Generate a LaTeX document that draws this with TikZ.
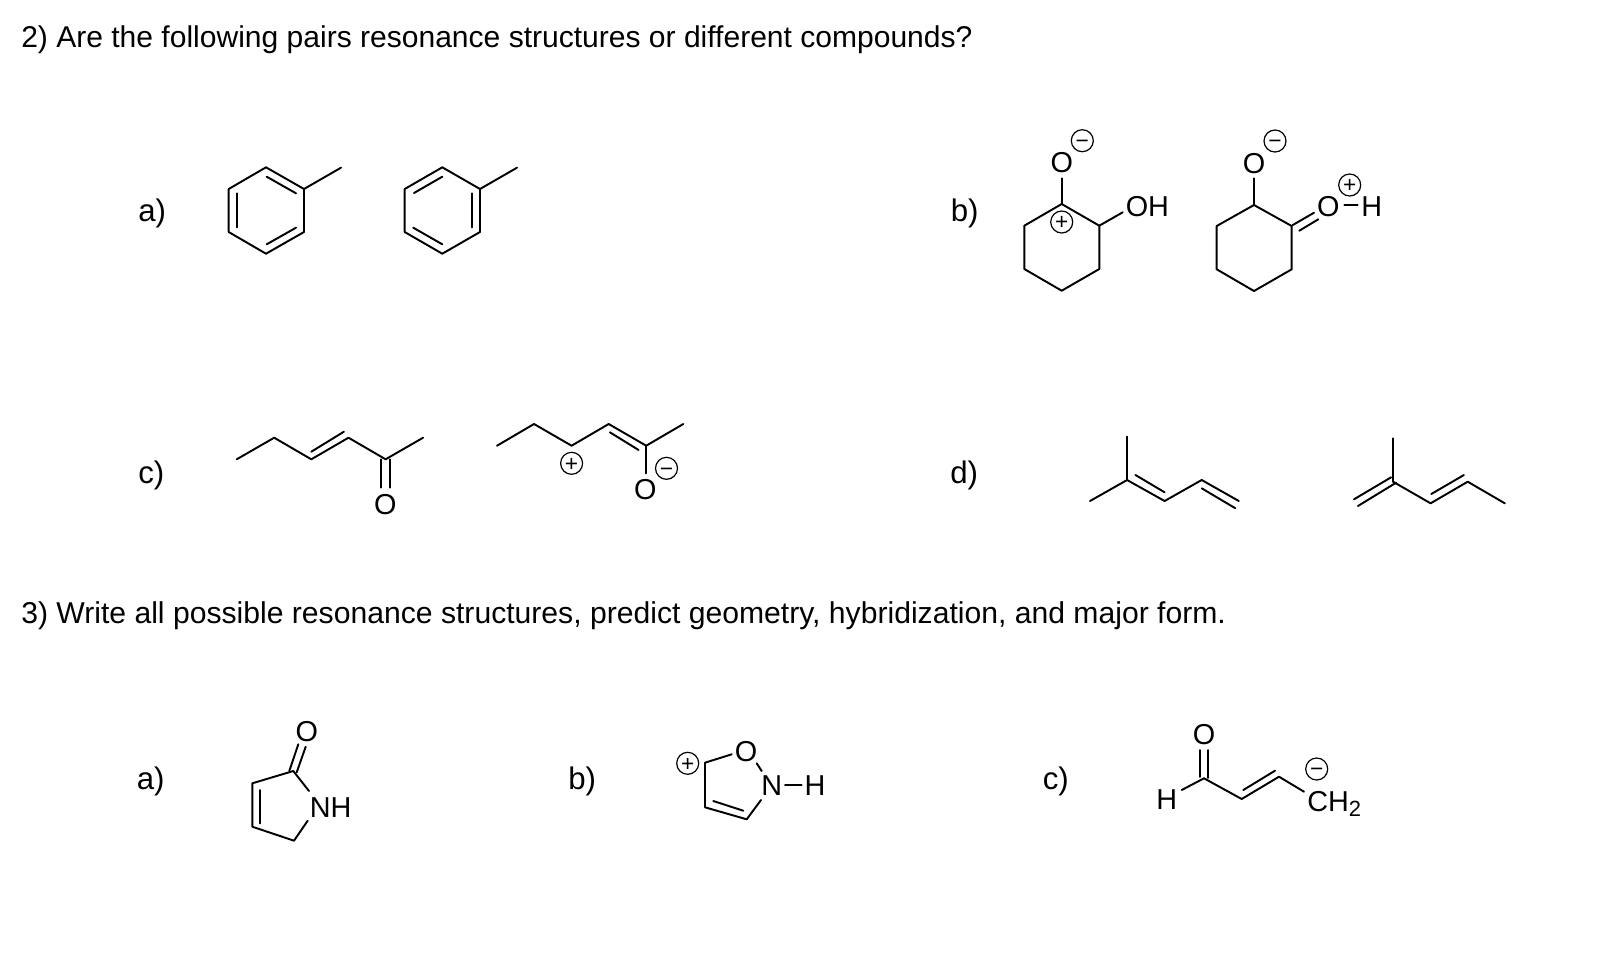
\documentclass[tikz,border=0pt]{standalone}
\usepackage{fontspec}
\setmainfont{Liberation Sans}
\newcommand{\txtbig}{\fontsize{22.53pt}{26pt}\selectfont}
\newcommand{\txtlabel}{\fontsize{23.4pt}{26pt}\selectfont}
\newcommand{\txtatom}{\fontsize{21.6pt}{24pt}\selectfont}
\tikzset{
  bond/.style={line width=1.45pt,line cap=round,line join=round,black},
  heading/.style={anchor=base west,inner sep=0pt,font=\txtbig},
  partlabel/.style={anchor=base west,inner sep=0pt,font=\txtlabel},
  atom/.style={anchor=center,inner sep=0pt,font=\txtatom},
  atombase/.style={anchor=base west,inner sep=0pt,font=\txtatom},
  charge/.style={circle,draw,line width=0.9pt,minimum size=16.5pt,inner sep=0pt,text height=11.8pt,text depth=0pt,font=\fontsize{17pt}{18pt}\selectfont}
}
\begin{document}
\begin{tikzpicture}[x=0.75pt,y=-0.75pt]
\useasboundingbox (0,0) rectangle (1622,976);
\fill[white] (0,0) rectangle (1622,976);
% headings
\node[heading] (h2) at (21,47.7) {2) Are the following pairs resonance structures or different compounds?};
\node[heading,font=\fontsize{22.6pt}{26pt}\selectfont] (h3) at (21,623) {3) Write all possible resonance structures, predict geometry, hybridization, and major form.};
% part labels
\node[partlabel] (l2a) at (138,221) {a)};
\node[partlabel] (l2b) at (950.5,221) {b)};
\node[partlabel] (l2c) at (138,483) {c)};
\node[partlabel] (l2d) at (950,483) {d)};
\node[partlabel] (l3a) at (136.5,789.5) {a)};
\node[partlabel] (l3b) at (568,789.5) {b)};
\node[partlabel] (l3c) at (1042.5,789.5) {c)};
% 2a
\draw[bond] (266,167.3)--(304,189)--(304,232)--(266,253.7)--(228.7,232)--(228.7,189)--cycle;
\draw[bond] (304,189)--(341,167.7);
\draw[bond] (266.7,176.7)--(296,193.3);
\draw[bond] (237,193.3)--(237,227.3);
\draw[bond] (266.7,244.3)--(296,227.7);
\draw[bond] (442.3,167.3)--(480,189)--(480,232)--(442.3,253.7)--(404.7,232)--(404.7,189)--cycle;
\draw[bond] (480,189)--(517,167.7);
\draw[bond] (414,193)--(442.3,176.7);
\draw[bond] (471.7,193.3)--(471.7,227.3);
\draw[bond] (413.3,227.7)--(442.3,244.3);
% 2b left
\draw[bond] (1061.7,204)--(1099.3,225.7)--(1099.3,269)--(1061.7,290.7)--(1024.3,269)--(1024.3,225.7)--cycle;
\draw[bond] (1061.7,204)--(1061.7,178.3);
\draw[bond] (1099.3,225.7)--(1122.7,212.3);
\node[atom] (o1) at (1061.7,162.7) {O};
\node[charge] (m1) at (1082.3,140.7) {−};
\node[charge] (p1) at (1061.7,222) {+};
\node[atombase] (oh) at (1125.5,216) {OH};
% 2b right
\draw[bond] (1254,205)--(1291.7,226)--(1291.7,269.3)--(1254,291)--(1216.7,269.3)--(1216.7,226)--cycle;
\draw[bond] (1254,205)--(1254,178.3);
\draw[bond] (1292.3,225.3)--(1314,212.7);
\draw[bond] (1299.3,230.7)--(1318.3,219.3);
\draw[bond] (1344.3,205)--(1357.7,205);
\node[atom] (o2) at (1254,163.3) {O};
\node[charge] (m2) at (1275,141) {−};
\node[atom] (o3) at (1328.3,206.7) {O};
\node[atom] (h1) at (1371.7,206.7) {H};
\node[charge] (p2) at (1349.7,185) {+};
% 2c left
\draw[bond] (236.7,459.3)--(274.2,437.7)--(311.3,459.3)--(348.5,437.7)--(385.6,459.3)--(423.1,437.7);
\draw[bond] (311.3,451.7)--(343.9,431.7);
\draw[bond] (381.4,459.3)--(381.4,487.7);
\draw[bond] (389.8,459.3)--(389.8,487.7);
\node[atom] (o4) at (385.2,504.3) {O};
% 2c right
\draw[bond] (497,445.7)--(534,424)--(571.6,445.7)--(608.7,424)--(646.2,445.7)--(683.3,424);
\draw[bond] (609.9,432.3)--(638.6,450);
\draw[bond] (646.2,445.7)--(646.2,473.3);
\node[atom] (o5) at (645.4,490) {O};
\node[charge] (p3) at (571.6,463.3) {+};
\node[charge] (m3) at (666.5,468.3) {−};
% 2d left
\draw[bond] (1127.1,436.7)--(1127.1,480);
\draw[bond] (1090,501)--(1127.1,480)--(1164.6,501)--(1201.7,480)--(1238.8,501);
\draw[bond] (1135.5,475)--(1164.6,492.3);
\draw[bond] (1201.7,488.3)--(1235.4,508.3);
% 2d right
\draw[bond] (1393,438.3)--(1393,481.7);
\draw[bond] (1391.1,477.3)--(1354,499.3);
\draw[bond] (1396.1,482.7)--(1357.9,506);
\draw[bond] (1393,481.7)--(1430.6,503.3)--(1467.7,481.7)--(1504.8,503.3);
\draw[bond] (1431.3,494)--(1463.9,475);
% 3a
\draw[bond] (309,791)--(293.3,771)--(252.3,783.3)--(252.3,826.7)--(294,840.7)--(307.7,820.7);
\draw[bond] (260,790)--(260,823.3);
\draw[bond] (289.3,771)--(298.3,744.3);
\draw[bond] (296.7,772.3)--(305.7,746.7);
\node[atom] (o6) at (306.7,731.7) {O};
\node[atombase] (nh) at (309.5,817.5) {NH};
% 3b
\draw[bond] (731.7,754.3)--(705,762.7)--(705,807.3)--(746.7,819.3)--(761,800);
\draw[bond] (756.7,763.3)--(761.7,771);
\draw[bond] (713.3,801)--(743.3,810.7);
\draw[bond] (785,785)--(801.7,785);
\node[atom] (o7) at (746,751.7) {O};
\node[atom] (n1) at (771.7,786) {N};
\node[atom] (h2a) at (815,786) {H};
\node[charge] (p4) at (687.7,763.3) {+};
% 3c
\draw[bond] (1200,750)--(1200,777);
\draw[bond] (1207.7,750)--(1207.7,778);
\draw[bond] (1181.7,790)--(1204,778.3)--(1241.7,799)--(1279,776.7)--(1304,791.7);
\draw[bond] (1243.3,790)--(1275,770.7);
\node[atom] (o8) at (1204,735) {O};
\node[atom] (h3a) at (1166.7,800) {H};
\node[atombase] (ch2) at (1307,811) {CH\raisebox{-0.2em}{\fontsize{16.5pt}{18pt}\selectfont 2}};
\node[charge] (m4) at (1316.7,769) {−};
\end{tikzpicture}
\end{document}
